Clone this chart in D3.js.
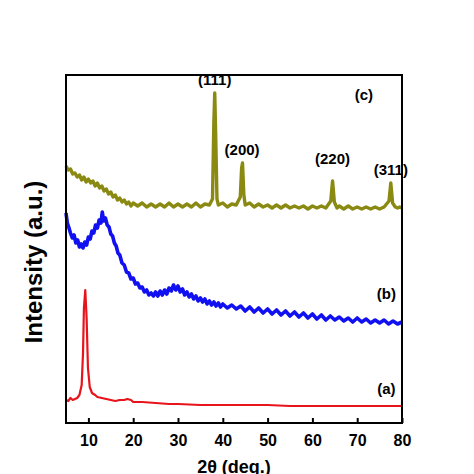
<!DOCTYPE html><html><head><script src="https://cdn.jsdelivr.net/npm/d3@7"></script>
<style>body{margin:0;background:#fff}text{font-family:"Liberation Sans",Arial,sans-serif;font-weight:bold}</style></head><body>
<svg id="c" width="474" height="474"></svg>
<script>
const xTicks=[10,20,30,40,50,60,70,80];
const seriesA=[[5,23],[5.5,22],[6,25],[6.5,23],[7,24],[7.5,25],[8,28],[8.5,38],[8.8,70],[9.0,115],[9.3,133],[9.6,105],[9.9,55],[10.3,36],[10.8,30],[11.5,28],[12,26],[13,25],[14,24],[15,23],[16,22],[17,23],[18,23],[18.7,24],[19.5,23],[20,21],[22,21],[25,20],[28,19],[30,19],[35,18],[40,18],[45,18],[50,18],[55,17],[60,17],[65,17],[70,17],[75,17],[80,17]];
const seriesB=[[5,210],[5.3,200],[5.6,196],[6,190],[6.4,185],[6.8,188],[7.2,180],[7.6,183],[8,176],[8.4,179],[8.8,175],[9.2,181],[9.6,178],[10,186],[10.4,184],[10.8,192],[11.2,190],[11.6,198],[12,195],[12.4,203],[12.8,200],[13.1,211],[13.4,202],[13.8,205],[14.2,198],[14.6,196],[15,189],[15.4,187],[15.8,180],[16.2,177],[16.6,170],[17,168],[17.5,160],[18,158],[18.5,151],[19,150],[19.5,144],[20,145],[20.5,139],[21,140],[21.5,135],[22,136],[22.5,131],[23,133],[23.5,128],[24,130],[24.5,127],[25,131],[25.5,127],[26,132],[26.5,128],[27,133],[27.5,129],[28,135],[28.5,132],[29,138],[29.5,133],[30,137],[30.5,131],[31,134],[31.5,128],[32,131],[32.5,126],[33,129],[33.5,124],[34,127],[34.5,122],[35,125],[35.5,121],[36,124],[36.5,119],[37,122],[37.5,118],[38,121],[38.5,117],[39,120],[39.5,116],[40,119],[41,115],[42,118],[43,114],[44,117],[45,112],[46,116],[47,111],[48,115],[49,110],[50,114],[51,109],[52,113],[53,108],[54,112],[55,107],[56,111],[57,106],[58,110],[59,105],[60,109],[61,104],[62,108],[63,103],[64,107],[65,103],[66,106],[67,102],[68,105],[69,101],[70,105],[71,101],[72,104],[73,100],[74,103],[75,100],[76,103],[77,99],[78,102],[79,99],[80,101]];
const seriesC=[[5,257],[5.5,253],[6,254],[6.5,249],[7,250],[7.5,246],[8,248],[8.5,243],[9,246],[9.5,241],[10,244],[10.5,240],[11,242],[11.5,237],[12,240],[12.5,235],[13,237],[13.5,232],[14,234],[14.5,229],[15,231],[15.5,226],[16,228],[16.5,223],[17,225],[17.5,221],[18,223],[18.5,219],[19,221],[19.5,217],[20,220],[21,217],[22,220],[23,216],[24,219],[25,216],[26,219],[27,216],[28,220],[29,216],[30,219],[31,216],[32,219],[33,216],[34,220],[35,216],[36,219],[37,218],[37.7,224],[38.0,300],[38.2,330],[38.4,290],[38.7,224],[39,218],[40,220],[41,216],[42,219],[43,218],[43.9,226],[44.2,255],[44.4,260],[44.7,228],[45,218],[46,220],[47,216],[48,219],[49,216],[50,218],[51,215],[52,218],[53,215],[54,218],[55,215],[56,217],[57,215],[58,217],[59,214],[60,217],[61,215],[62,217],[63,215],[64.1,222],[64.5,242],[64.9,221],[65.5,215],[66,217],[67,214],[68,217],[69,214],[70,216],[71,214],[72,216],[73,214],[74,216],[75,214],[76,216],[77.1,222],[77.5,240],[77.9,220],[78.5,216],[79,215],[79.5,216],[80,215]];
const peakLabels=[{t:"(111)",x:38.2,y:338},{t:"(200)",x:44.3,y:268},{t:"(220)",x:64.5,y:259},{t:"(311)",x:77.5,y:248}];
const curveLabels=[{t:"(c)",x:71.5,y:323},{t:"(b)",x:76.5,y:124},{t:"(a)",x:76.5,y:29}];
const svg=d3.select("#c");
const L=66,R=402,T=75,B=423;
const x=d3.scaleLinear().domain([5,80]).range([L,R]);
const y=d3.scaleLinear().domain([0,348]).range([B,T]);
const line=d3.line().x(d=>x(d[0])).y(d=>y(d[1]));
[[seriesA,"#e8141b",2.2],[seriesB,"#1010f0",3.6],[seriesC,"#8a8a12",3.4]].forEach(([s,c,w])=>svg.append("path").attr("d",line(s)).attr("fill","none").attr("stroke",c).attr("stroke-width",w).attr("stroke-linejoin","round"));
svg.append("rect").attr("x",L).attr("y",T).attr("width",R-L).attr("height",B-T).attr("fill","none").attr("stroke","#000").attr("stroke-width",2);
const ax=svg.append("g").attr("transform",`translate(0,${B})`).call(d3.axisBottom(x).tickValues(xTicks).tickSize(5).tickSizeOuter(0));
ax.select(".domain").remove();
ax.selectAll("line").attr("stroke-width",2).attr("y2",-5);
ax.selectAll("text").attr("font-size",16).attr("font-weight","bold").attr("dy","0.95em").attr("fill","#000");
peakLabels.forEach(p=>svg.append("text").attr("x",x(p.x)).attr("y",y(p.y)).attr("text-anchor","middle").attr("font-size",15).text(p.t));
curveLabels.forEach(p=>svg.append("text").attr("x",x(p.x)).attr("y",y(p.y)).attr("text-anchor","middle").attr("font-size",15).text(p.t));
svg.append("text").attr("x",(L+R)/2).attr("y",473).attr("text-anchor","middle").attr("font-size",18).text("2θ (deg.)");
svg.append("text").attr("transform","translate(42,262) rotate(-90)").attr("text-anchor","middle").attr("font-size",24).text("Intensity (a.u.)");
</script></body></html>
